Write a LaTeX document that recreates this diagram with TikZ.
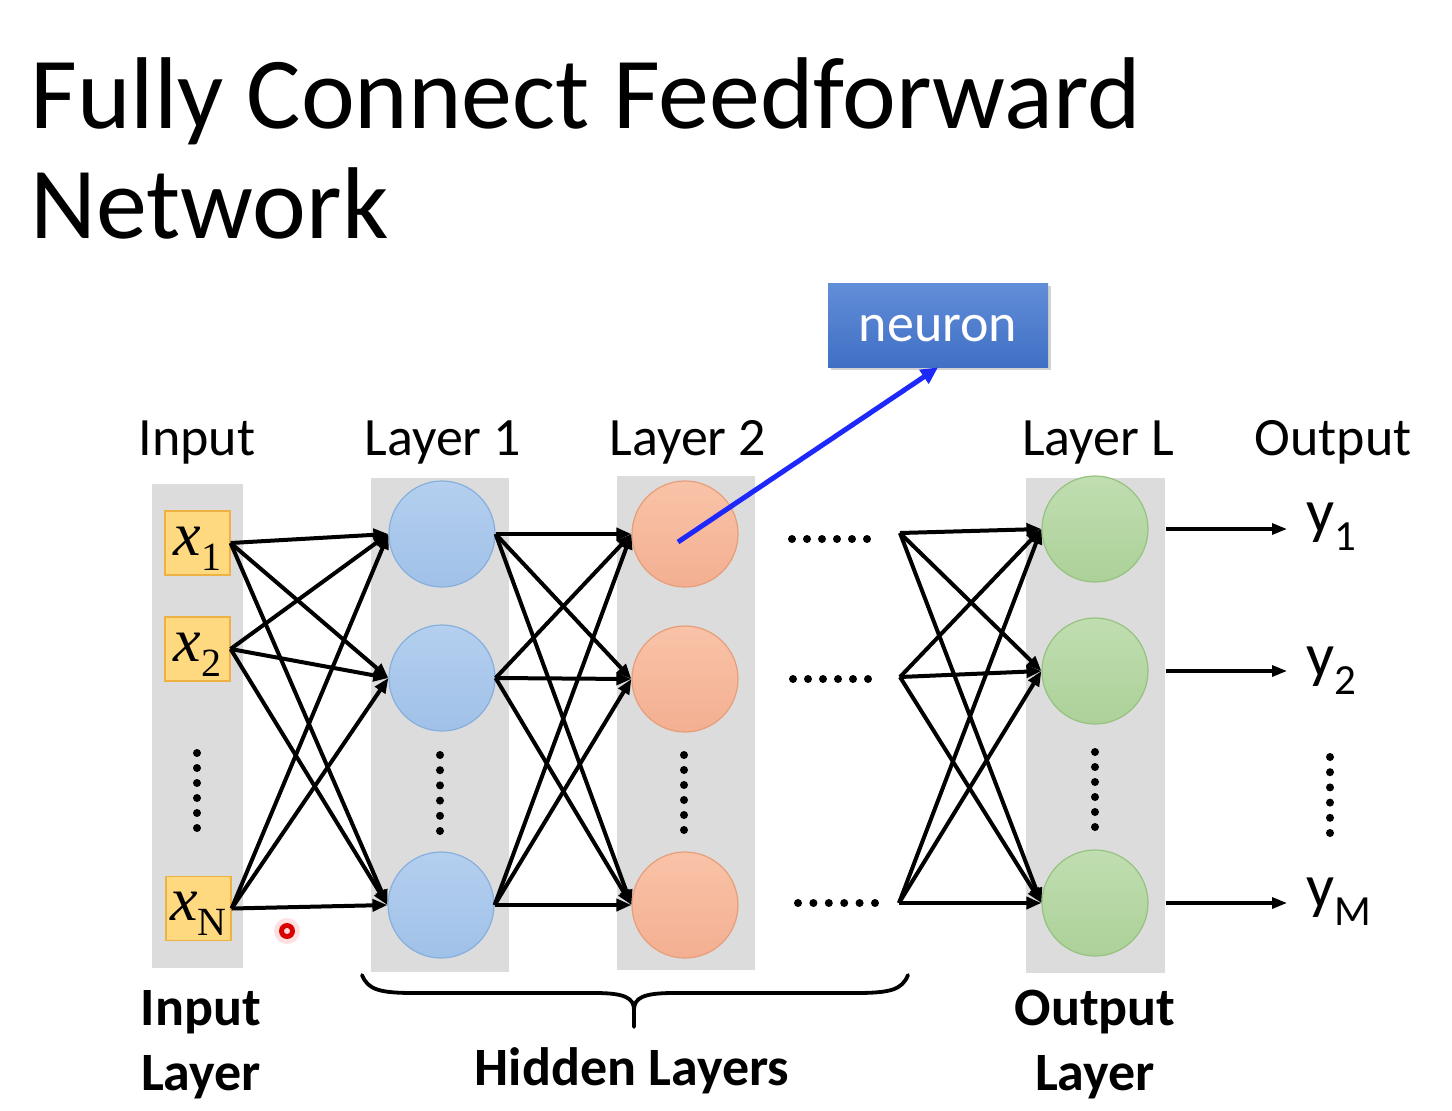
\documentclass[tikz,border=0pt]{standalone}
\usepackage{fontspec}
\setmainfont{Carlito}
\newfontfamily\xserif{Liberation Serif}
\usetikzlibrary{arrows.meta,shadows}
\definecolor{colgray}{RGB}{220,220,220}
\definecolor{xfill}{RGB}{255,217,128}
\definecolor{xborder}{RGB}{238,178,68}
\definecolor{bluetop}{RGB}{180,207,239}
\definecolor{bluebot}{RGB}{160,193,232}
\definecolor{blueline}{RGB}{135,175,222}
\definecolor{orgtop}{RGB}{249,195,168}
\definecolor{orgbot}{RGB}{243,175,145}
\definecolor{orgline}{RGB}{230,158,122}
\definecolor{grntop}{RGB}{192,222,177}
\definecolor{grnbot}{RGB}{172,209,152}
\definecolor{grnline}{RGB}{150,194,128}
\definecolor{neurtop}{RGB}{98,142,216}
\definecolor{neurbot}{RGB}{64,111,196}
\definecolor{pointer}{RGB}{30,40,250}
\newcommand\xlab[1]{{\itshape x}\raisebox{-7.5pt}{\fontsize{20}{20}\selectfont #1}}
\newcommand\ylab[1]{y\raisebox{-9pt}{\fontsize{21.5}{22}\selectfont #1}}
\begin{document}
\begin{tikzpicture}[x=0.5pt,y=-0.5pt,
  titletext/.style={inner sep=0pt, font=\fontsize{51}{61}\selectfont},
  toplabel/.style={inner sep=0pt, anchor=base, font=\fontsize{27}{32}\selectfont},
  botlabel/.style={inner sep=0pt, align=center, font=\bfseries\fontsize{27}{32.5}\selectfont},
  colbox/.style={fill=colgray, draw=none, inner sep=0pt},
  xbox/.style={draw=xborder, line width=0.6pt, fill=xfill, minimum width=32.5pt, minimum height=32pt,
    inner sep=0pt, text height=19.5pt, text depth=7.5pt, font=\xserif\fontsize{31}{31}\selectfont},
  neur/.style={circle, minimum size=53pt, inner sep=0pt, line width=0.6pt},
  hone/.style={neur, draw=blueline, top color=bluetop, bottom color=bluebot},
  htwo/.style={neur, draw=orgline, top color=orgtop, bottom color=orgbot},
  hout/.style={neur, draw=grnline, top color=grntop, bottom color=grnbot},
  conn/.style={line width=2pt, -{Triangle[length=7.5pt,width=6pt]}},
  outarr/.style={line width=1.6pt, -{Triangle[length=7.5pt,width=5.5pt]}},
  bluearr/.style={line width=2.5pt, pointer, -{Triangle[length=8.5pt,width=8pt]}},
  ylabel/.style={inner sep=0pt, anchor=base west, font=\fontsize{31}{31}\selectfont},
  dotc/.style={fill=black},
  bracestyle/.style={line width=1.9pt, line cap=round}
]
\useasboundingbox (0,0) rectangle (1452,1110);
\fill[white] (0,0) rectangle (1452,1110);

% title
\node[titletext, anchor=base west] (title1) at (30,128) {Fully Connect Feedforward};
\node[titletext, anchor=base west] (title2) at (30,238) {Network};

% column backgrounds
\node[colbox, minimum width=45.5pt, minimum height=242pt] (col0) at (197.5,726) {};
\node[colbox, minimum width=69pt, minimum height=247pt] (col1) at (439.5,725) {};
\node[colbox, minimum width=69pt, minimum height=247pt] (col2) at (686,723) {};
\node[colbox, minimum width=69.5pt, minimum height=247.5pt] (colL) at (1095.5,725.5) {};

% top labels
\node[toplabel] (linput) at (197,455) {Input};
\node[toplabel] (lone) at (443,455) {Layer 1};
\node[toplabel] (ltwo) at (688,455) {Layer 2};
\node[toplabel] (lL) at (1098,455) {Layer L};
\node[toplabel] (lout) at (1333,455) {Output};

% input boxes
\node[xbox] (x1) at (197.5,543) {\xlab{1}};
\node[xbox] (x2) at (197.5,649) {\xlab{2}};
\node[xbox] (xN) at (198.5,908.5) {\xlab{N}};

% neurons
\node[hone] (h11) at (442,534) {};
\node[hone] (h12) at (442,678) {};
\node[hone] (h13) at (441,905) {};
\node[htwo] (h21) at (685,534) {};
\node[htwo] (h22) at (685,679) {};
\node[htwo] (h23) at (685,905) {};
\node[hout] (o1) at (1095,529) {};
\node[hout] (o2) at (1095,671) {};
\node[hout] (o3) at (1095,903) {};

% free ends before layer L
\coordinate (d1) at (900,533);
\coordinate (d2) at (900,677);
\coordinate (d3) at (899,903);

% connections
\foreach \a in {x1,x2,xN}
  \foreach \b in {h11,h12,h13}
    \draw[conn] (\a.east) -- (\b.west);
\foreach \a in {h11,h12,h13}
  \foreach \b in {h21,h22,h23}
    \draw[conn] (\a.east) -- (\b.west);
\foreach \a in {d1,d2,d3}
  \foreach \b in {o1,o2,o3}
    \draw[conn] (\a) -- (\b.west);

% vertical dots
\foreach \i in {0,...,5} {
  \fill[dotc] (197,753+15*\i) circle[radius=2pt];
  \fill[dotc] (440,755+15.2*\i) circle[radius=2pt];
  \fill[dotc] (684,755+15*\i) circle[radius=2pt];
  \fill[dotc] (1095,752+15*\i) circle[radius=2pt];
  \fill[dotc] (1330,757+15.2*\i) circle[radius=2pt];
}
% horizontal dots
\foreach \i in {0,...,5} {
  \fill[dotc] (792+15*\i,539) circle[radius=2pt];
  \fill[dotc] (793+15*\i,679) circle[radius=2pt];
  \fill[dotc] (798+15.4*\i,903) circle[radius=2pt];
}

% outputs
\node[ylabel] (y1) at (1306,532) {\ylab{1}};
\node[ylabel] (y2) at (1306,676) {\ylab{2}};
\node[ylabel] (yM) at (1306,907) {\ylab{M}};
\coordinate (t1) at (1287,529);
\coordinate (t2) at (1287,671);
\coordinate (t3) at (1287,903);
\draw[outarr, shorten <=8.5pt] (o1.east) -- (t1);
\draw[outarr, shorten <=8.5pt] (o2.east) -- (t2);
\draw[outarr, shorten <=8.5pt] (o3.east) -- (t3);

% neuron callout
\node[inner sep=0pt, minimum width=110pt, minimum height=42pt, top color=neurtop, bottom color=neurbot,
  drop shadow={shadow xshift=1.5pt, shadow yshift=-1.5pt, opacity=0.35},
  text=white, text height=16pt, text depth=0pt, font=\fontsize{27}{27}\selectfont] (neuron) at (938,325) {neuron};
\coordinate (nst) at (678,542);
\draw[bluearr] (nst) -- (neuron.south);

% brace
\coordinate (bl) at (362,975);
\coordinate (br) at (908,975);
\coordinate (btip) at (634,1027);
\draw[bracestyle] (bl) .. controls (368,990) and (380,993) .. (415,993) -- (595,993)
  .. controls (625,993) and (634,998) .. (634,1010) -- (btip);
\draw[bracestyle] (br) .. controls (902,990) and (890,993) .. (855,993) -- (673,993)
  .. controls (643,993) and (634,998) .. (634,1010);

% bottom labels
\node[botlabel, anchor=north] (binput) at (201,990) {Input\\Layer};
\node[botlabel, anchor=base] (bhidden) at (632,1085) {Hidden Layers};
\node[botlabel, anchor=north] (boutput) at (1095,990) {Output\\Layer};

% pointer spot
\fill[red!12] (287,931) circle[radius=6.5pt];
\fill[red!85!black] (287,931) circle[radius=4pt];
\fill[white!85!red] (287,931) circle[radius=1.5pt];
\end{tikzpicture}
\end{document}
